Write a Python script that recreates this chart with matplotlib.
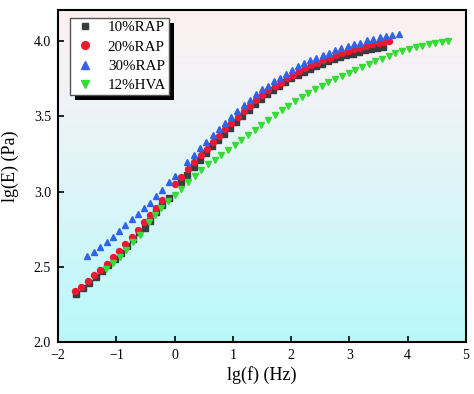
import numpy as np
import matplotlib
matplotlib.use('Agg')
import matplotlib.pyplot as plt
from matplotlib.colors import LinearSegmentedColormap
from matplotlib.patches import Rectangle

# lg(f) / lg(E)
x_10 = [-1.684, -1.575, -1.465, -1.355, -1.245, -1.14, -1.03, -0.925, -0.815, -0.71,
        -0.605, -0.513, -0.415, -0.312, -0.209, -0.096,
        0.117, 0.219, 0.333, 0.43, 0.533, 0.64, 0.745, 0.85, 0.955, 1.06,
        1.165, 1.27, 1.375, 1.48, 1.585, 1.69, 1.795, 1.90, 2.005, 2.11,
        2.215, 2.32, 2.425, 2.53, 2.635, 2.74, 2.845, 2.95, 3.055, 3.16,
        3.265, 3.37, 3.475, 3.575]
y_10 = [2.321, 2.357, 2.392, 2.43, 2.47, 2.51, 2.553, 2.593, 2.638, 2.683,
        2.728, 2.761, 2.805, 2.861, 2.91, 2.959,
        3.061, 3.11, 3.161, 3.21, 3.255, 3.30, 3.342, 3.384, 3.425, 3.465,
        3.505, 3.543, 3.58, 3.614, 3.646, 3.675, 3.702, 3.728, 3.752, 3.775,
        3.796, 3.815, 3.833, 3.85, 3.865, 3.879, 3.892, 3.905, 3.917, 3.928,
        3.938, 3.947, 3.955, 3.963]

x_20 = [-1.714, -1.60, -1.49, -1.383, -1.273, -1.165, -1.057, -0.954, -0.844, -0.736,
        -0.633, -0.525, -0.415, -0.312, -0.209,
        0.014, 0.117, 0.23, 0.333, 0.448, 0.55, 0.66, 0.765, 0.87, 0.975,
        1.08, 1.19, 1.295, 1.40, 1.505, 1.61, 1.715, 1.82, 1.925, 2.03,
        2.135, 2.24, 2.345, 2.45, 2.555, 2.66, 2.765, 2.87, 2.975, 3.08,
        3.185, 3.29, 3.395, 3.50, 3.60, 3.672]
y_20 = [2.339, 2.365, 2.405, 2.443, 2.481, 2.521, 2.565, 2.605, 2.65, 2.699,
        2.743, 2.795, 2.843, 2.892, 2.943,
        3.05, 3.099, 3.148, 3.196, 3.242, 3.285, 3.33, 3.372, 3.414, 3.455,
        3.495, 3.535, 3.572, 3.608, 3.642, 3.672, 3.70, 3.725, 3.752, 3.778,
        3.80, 3.82, 3.84, 3.857, 3.874, 3.89, 3.905, 3.918, 3.932, 3.945,
        3.957, 3.968, 3.978, 3.987, 3.994, 3.999]

x_30 = [-1.496, -1.383, -1.273, -1.165, -1.057, -0.954, -0.844, -0.736, -0.633, -0.525,
        -0.415, -0.312, -0.209, -0.10, 0.002,
        0.219, 0.333, 0.443, 0.545, 0.659, 0.762, 0.864, 0.974, 1.077, 1.185,
        1.293, 1.391, 1.499, 1.609, 1.705, 1.815, 1.918, 2.021, 2.117, 2.22,
        2.329, 2.432, 2.545, 2.648, 2.751, 2.861, 2.974, 3.077, 3.187, 3.30,
        3.403, 3.518, 3.633, 3.736, 3.845]
y_30 = [2.57, 2.599, 2.632, 2.665, 2.699, 2.737, 2.777, 2.815, 2.85, 2.888,
        2.925, 2.97, 3.008, 3.061, 3.103,
        3.199, 3.245, 3.29, 3.33, 3.375, 3.415, 3.457, 3.497, 3.535, 3.575,
        3.61, 3.648, 3.68, 3.703, 3.732, 3.755, 3.783, 3.81, 3.835, 3.853,
        3.875, 3.89, 3.908, 3.923, 3.939, 3.952, 3.968, 3.979, 3.99, 4.005,
        4.017, 4.028, 4.035, 4.041, 4.045]

x_hva = [-1.17, -1.057, -0.942, -0.827, -0.713, -0.60,
         -0.44, -0.33, -0.226, -0.113, 0.002, 0.117, 0.232, 0.347, 0.462,
         0.577, 0.69, 0.80, 0.915, 1.03, 1.145, 1.26, 1.375, 1.49, 1.605,
         1.72, 1.835, 1.95, 2.065, 2.18, 2.295, 2.41, 2.525, 2.64, 2.755,
         2.87, 2.985, 3.10, 3.215, 3.33, 3.445, 3.56, 3.675, 3.79, 3.905,
         4.02, 4.135, 4.25, 4.365, 4.475, 4.585, 4.696]
y_hva = [2.485, 2.525, 2.568, 2.612, 2.662, 2.708,
         2.80, 2.845, 2.888, 2.935, 2.975, 3.02, 3.065, 3.105, 3.145,
         3.18, 3.212, 3.245, 3.278, 3.31, 3.343, 3.377, 3.41, 3.445, 3.478,
         3.51, 3.543, 3.572, 3.60, 3.628, 3.655, 3.68, 3.705, 3.728, 3.75,
         3.77, 3.79, 3.81, 3.83, 3.848, 3.866, 3.884, 3.902, 3.918, 3.933,
         3.947, 3.958, 3.968, 3.978, 3.986, 3.993, 3.999]

plt.rcParams['font.family'] = ['Liberation Serif', 'DejaVu Serif']

fig = plt.figure(figsize=(4.74, 3.94), dpi=100)
ax = fig.add_axes([0.1224, 0.132, 0.8606, 0.8426])

xlim = (-2, 5)
ylim = (2.0, 4.207)

# pink -> cyan background gradient
cmap = LinearSegmentedColormap.from_list(
    'bg', [(0.0, '#b8f9fa'), (0.45, '#dcf5f8'), (0.75, '#f0f3f7'), (1.0, '#fdf0f0')])
grad = np.linspace(0, 1, 256).reshape(-1, 1)
ax.imshow(grad, cmap=cmap, origin='lower', aspect='auto',
          extent=(xlim[0], xlim[1], ylim[0], ylim[1]), zorder=0)

ax.plot(x_10, y_10, 's', color='#383d3d', ms=3.7, ls='none', label='10%RAP', zorder=2)
ax.plot(x_20, y_20, 'o', color='#ee1733', ms=4.3, ls='none', label='20%RAP', zorder=3)
ax.plot(x_30, y_30, '^', color='#2f63ec', ms=4.5, ls='none', label='30%RAP', zorder=4)
ax.plot(x_hva, y_hva, 'v', color='#33dd33', ms=4.5, ls='none', label='12%HVA', zorder=5)

ax.set_xlim(*xlim)
ax.set_ylim(*ylim)
ax.set_xticks(range(-2, 6))
ax.set_yticks([2.0, 2.5, 3.0, 3.5, 4.0])
ax.set_yticklabels(['2.0', '2.5', '3.0', '3.5', '4.0'])
ax.tick_params(direction='in', length=4, width=1.2, labelsize=10, pad=5)
for s in ax.spines.values():
    s.set_linewidth(1.5)
    s.set_zorder(6)

ax.set_xlabel('lg(f) (Hz)', fontsize=13, labelpad=3)
ax.set_ylabel('lg(E) (Pa)', fontsize=13, labelpad=5)
ax.yaxis.set_label_coords(-0.095, 0.53)

leg = ax.legend(loc='upper left', bbox_to_anchor=(0.03, 0.976), fontsize=10.8,
                frameon=True, fancybox=False, edgecolor='#555555',
                markerscale=1.3, handletextpad=0.8, labelspacing=0.38,
                borderpad=0.2, handlelength=1.5, borderaxespad=0)
leg.get_frame().set_facecolor('white')
leg.get_frame().set_alpha(1)
leg.get_frame().set_linewidth(1.0)
leg.set_zorder(8)

# black drop shadow, offset a few pixels down-right, drawn just under the legend
fig.canvas.draw()
bb = leg.get_window_extent().transformed(fig.transFigure.inverted())
dx, dy = 5 / 474, 5 / 394
ax.add_patch(Rectangle((bb.x0 + dx, bb.y0 - dy), bb.width, bb.height,
                       transform=fig.transFigure, facecolor='black',
                       edgecolor='none', clip_on=False, zorder=7))

fig.savefig('out.png', dpi=100)
